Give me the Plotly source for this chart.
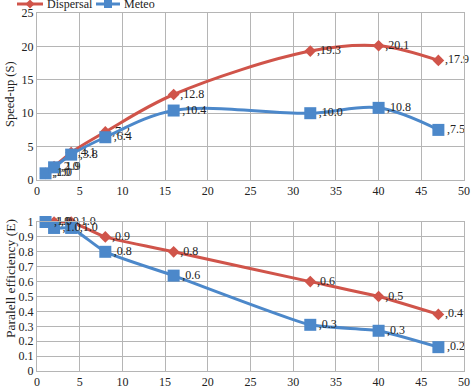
import plotly.graph_objects as go

cores = [1, 2, 4, 8, 16, 32, 40, 47]
disp_speedup = [1.0, 2.0, 4.1, 7.2, 12.8, 19.3, 20.1, 17.9]
meteo_speedup = [1.0, 1.9, 3.8, 6.4, 10.4, 10.0, 10.8, 7.5]
disp_eff = [1.0, 1.0, 1.0, 0.9, 0.8, 0.6, 0.5, 0.38]
meteo_eff = [1.0, 0.96, 0.96, 0.8, 0.64, 0.31, 0.27, 0.16]
series_names = ["Dispersal", "Meteo"]

RED = "#D0544A"
BLUE = "#4C88CA"
FONT = "Liberation Serif"
W, H = 474, 386

def lab(vals):
    return [f",{v:.1f}" for v in vals]

fig = go.Figure()

def add(x, y, name, color, symbol, msize, xa, ya, smooth):
    fig.add_trace(go.Scatter(
        x=x, y=y, name=name, mode="lines+markers+text",
        text=lab(y), textposition="middle right",
        textfont=dict(family=FONT, size=12, color="#222"),
        line=dict(color=color, width=3, shape="spline", smoothing=smooth),
        marker=dict(symbol=symbol, size=msize, color=color),
        xaxis=xa, yaxis=ya, showlegend=False, cliponaxis=False))

add(cores, disp_speedup, series_names[0], RED, "diamond", 9, "x", "y", 1.0)
add(cores, meteo_speedup, series_names[1], BLUE, "square", 12, "x", "y", 1.0)
add(cores, disp_eff, series_names[0], RED, "diamond", 9, "x2", "y2", 0.5)
add(cores, meteo_eff, series_names[1], BLUE, "square", 12, "x2", "y2", 0.5)

x0, x1 = 37 / W, 464 / W
def py(p):
    return 1 - p / H
def px(p):
    return p / W

grid = "#b5b5b5"
ticks5 = list(range(0, 51, 5))
axcommon = dict(range=[0, 50], tickvals=ticks5, showgrid=True, gridcolor=grid, gridwidth=1,
                zeroline=False, showline=True, linecolor=grid, mirror=True,
                ticks="", tickfont=dict(family=FONT, size=12, color="#222"),
                domain=[x0, x1], automargin=False, fixedrange=True)

# manual legend (line + marker glyph + label) at the top edge
shapes = []
annotations = []
leg = [(17, 43, RED, "diamond", series_names[0]), (96, 120, BLUE, "square", series_names[1])]
ly = 4
for a, b, col, sym, name in leg:
    shapes.append(dict(type="line", xref="paper", yref="paper", x0=px(a), x1=px(b),
                       y0=py(ly), y1=py(ly), line=dict(color=col, width=3)))
    c = (a + b) / 2
    r = 4.5
    if sym == "diamond":
        path = f"M {px(c - r)} {py(ly)} L {px(c)} {py(ly - r)} L {px(c + r)} {py(ly)} L {px(c)} {py(ly + r)} Z"
    else:
        r = 4
        path = f"M {px(c - r)} {py(ly - r)} L {px(c + r)} {py(ly - r)} L {px(c + r)} {py(ly + r)} L {px(c - r)} {py(ly + r)} Z"
    shapes.append(dict(type="path", xref="paper", yref="paper", path=path,
                       fillcolor=col, line=dict(color=col, width=0)))
    annotations.append(dict(text=name, x=px(b + 2), y=py(ly), xref="paper", yref="paper",
                            xanchor="left", yanchor="middle", showarrow=False,
                            font=dict(family=FONT, size=12, color="#222")))

annotations += [
    dict(text="Speed-up (S)", x=10 / W, y=py(94), xref="paper", yref="paper",
         textangle=-90, showarrow=False, font=dict(family=FONT, size=12.5, color="#222"),
         xanchor="center", yanchor="middle"),
    dict(text="Paralell efficiency (E)", x=10 / W, y=py(279), xref="paper", yref="paper",
         textangle=-90, showarrow=False, font=dict(family=FONT, size=13.5, color="#222"),
         xanchor="center", yanchor="middle"),
]

fig.update_layout(
    width=W, height=H,
    margin=dict(l=0, r=0, t=0, b=0),
    paper_bgcolor="white", plot_bgcolor="white",
    font=dict(family=FONT, size=12, color="#222"),
    showlegend=False,
    xaxis=dict(**axcommon, anchor="y"),
    xaxis2=dict(**axcommon, anchor="y2"),
    yaxis=dict(range=[0, 25], dtick=5, domain=[py(180), py(13)], showgrid=True,
               gridcolor=grid, zeroline=False, showline=True, linecolor=grid, mirror=True,
               ticks="", tickfont=dict(family=FONT, size=12, color="#222"),
               automargin=False, anchor="x", fixedrange=True),
    yaxis2=dict(range=[0, 1], dtick=0.1, domain=[py(371), py(222)], showgrid=True,
                gridcolor=grid, zeroline=False, showline=True, linecolor=grid, mirror=True,
                ticks="", tickfont=dict(family=FONT, size=12, color="#222"),
                automargin=False, anchor="x2", fixedrange=True),
    shapes=shapes,
    annotations=annotations,
)

fig.write_html("out.html", config={"displayModeBar": False},
               post_script="document.body.style.margin='0';document.body.style.overflow='hidden';")
